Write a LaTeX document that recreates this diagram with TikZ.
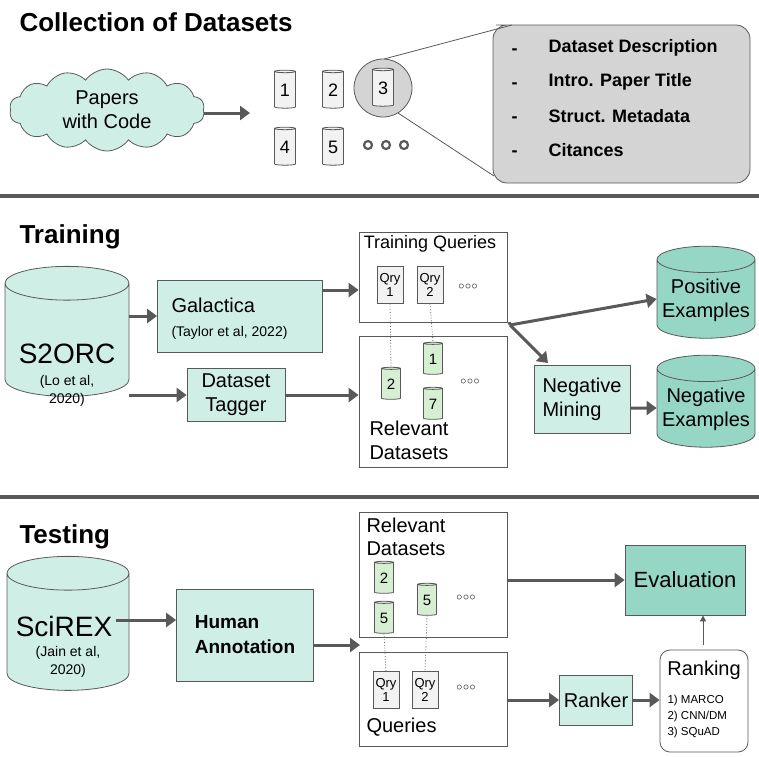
\documentclass[tikz,border=0pt]{standalone}
\usepackage{fontspec}
\setmainfont{Liberation Sans}
\usetikzlibrary{shapes.geometric,shapes.symbols,arrows.meta}
\definecolor{lteal}{HTML}{CFEFE6}
\definecolor{dteal}{HTML}{96D6C5}
\definecolor{lgreen}{HTML}{D6EFD3}
\definecolor{agray}{HTML}{595959}
\begin{document}
\begin{tikzpicture}[x=1pt,y=-1pt,
  fs/.style={font=\fontsize{#1}{#1}\selectfont},
  title/.style={anchor=west,font=\fontsize{26}{26}\selectfont\bfseries},
  box/.style={draw=agray,fill=lteal,line width=0.8pt,inner sep=0pt},
  panel/.style={draw=agray,fill=white,line width=0.8pt},
  cyl/.style={cylinder,shape border rotate=90,draw=agray,line width=0.8pt,aspect=#1,inner sep=0pt},
  small/.style={cyl=0.25,fill=white!90!gray,minimum width=21pt,minimum height=38pt,fs=18},
  gsmall/.style={cyl=0.25,fill=lgreen,minimum width=19pt,minimum height=32pt,fs=15},
  qry/.style={draw=agray,fill=white!90!gray,minimum width=26pt,minimum height=37pt,inner sep=0pt,align=center,font=\fontsize{13}{14}\selectfont},
  arr/.style={draw=agray,line width=3pt,-{Triangle[length=10pt,width=14pt]}},
  dots/.style={fs=12},
  dotl/.style={agray,dotted,line width=0.8pt},
  sep/.style={agray,line width=4pt},
  cite/.style={align=center,font=\fontsize{14}{18}\selectfont},
  item/.style={anchor=west,font=\bfseries\fontsize{18}{18}\selectfont}]
\useasboundingbox (0,0) rectangle (759,756);

% ---------- Collection of Datasets
\node[title] at (16,22) {Collection of Datasets};
\node[cloud,cloud puffs=14,cloud puff arc=110,aspect=2.6,draw=agray,fill=lteal,line width=0.8pt,
  minimum width=195pt,minimum height=82pt,align=center,font=\fontsize{20}{24}\selectfont] (pwc) at (107,110) {Papers\\with Code};
\coordinate (pwcin) at (250,113);
\draw[arr] (pwc.east |- pwcin) -- (pwcin);

\node[circle,draw=agray,fill=black!17,line width=0.8pt,minimum size=58pt] (zoom) at (383,88) {};
\draw[agray,line width=0.8pt,fill=black!17,rounded corners=14pt]
  (510,25) -- (750,25) -- (750,183) -- (493,183) -- (493,25) -- cycle;
\draw[agray,line width=0.8pt] (384,59) -- (512,25);
\draw[agray,line width=0.8pt] (398,113) -- (494,176);
\foreach \y/\t in {48/Dataset Description,82/Intro. Paper Title,116/Struct. Metadata,150/Citances}
  {\node[item] at (508,\y+4) {-};
   \node[item] at (545,\y) {\t};}
\node[small] (d1) at (285,90) {1};
\node[small] (d2) at (333,90) {2};
\node[small] (d3) at (383,88) {3};
\node[small] (d4) at (285,147) {4};
\node[small] (d5) at (333,147) {5};
\foreach \x in {368,386,404} \draw[agray,line width=2.2pt] (\x,145) circle (4pt);
\draw[sep] (0,196) -- (759,196);

% ---------- Training
\node[title] at (16,237) {Training};
\node[cyl=0.35,fill=lteal,minimum width=124pt,minimum height=130pt] (s2) at (67,340)
  {\phantom{\fontsize{28}{30}\selectfont S2ORC}};
\node[fs=28] at (67,354) {S2ORC};
\node[cite] at (67,391) {(Lo et al,\\2020)};
\node[box,minimum width=165pt,minimum height=72pt] (gal) at (240,316) {};
\node[anchor=west,fs=20] at (168,305) {Galactica};
\node[anchor=west,fs=14] at (168,333) {(Taylor et al, 2022)};
\node[box,minimum width=98pt,minimum height=53pt,align=center,font=\fontsize{20}{24}\selectfont] (tag) at (236,395) {Dataset\\Tagger};
\draw[arr] (s2.east |- gal) -- (gal.west);
\draw[arr] (s2.east |- tag) -- (tag.west);

\node[panel,minimum width=148pt,minimum height=90pt,inner sep=0pt] (tq) at (433,277) {};
\node[fs=18] at (430,244) {Training Queries};
\node[qry] (q1) at (390,285) {Qry\\1};
\node[qry] (q2) at (430,285) {Qry\\2};
\node[dots] at (468,287) {$\circ\!\circ\!\circ$};
\node[panel,minimum width=148pt,minimum height=131pt,inner sep=0pt] (rd) at (433,402) {};
\node[gsmall] (r1) at (433,359) {1};
\node[gsmall] (r2) at (391,384) {2};
\node[gsmall] (r7) at (433,404) {7};
\node[dots] at (470,382) {$\circ\!\circ\!\circ$};
\node[anchor=west,align=left,font=\fontsize{20}{24}\selectfont] at (366,440) {Relevant\\Datasets};
\draw[dotl] (q1.south) -- (r2.north);
\draw[dotl] (q2.south) -- (r1.north);
\coordinate (g1) at (gal.east |- 0,290);
\draw[arr] (g1) -- (tq.west |- g1);
\draw[arr] (tag.east) -- (rd.west |- tag);

\node[cyl=0.3,fill=dteal,minimum width=98pt,minimum height=92pt,align=center,font=\fontsize{20}{24}\selectfont] (pos) at (706,299) {\\[-6pt]Positive\\Examples};
\node[cyl=0.3,fill=dteal,minimum width=98pt,minimum height=92pt,align=center,font=\fontsize{20}{24}\selectfont] (neg) at (706,408) {\\[-6pt]Negative\\Examples};
\node[box,minimum width=96pt,minimum height=68pt,align=left,font=\fontsize{20}{24}\selectfont] (nm) at (582,399) {Negative\\Mining};
\coordinate (fork) at (510,325);
\coordinate (nmin) at (548,363);
\draw[agray,line width=3pt] (rd.north east) ++(2,-14) -- (fork);
\draw[arr] (fork) -- (pos.west);
\draw[arr] (fork) -- (nmin);
\draw[arr] (nm.east |- neg) -- (neg.west);
\draw[sep] (0,497) -- (759,497);

% ---------- Testing
\node[title] at (16,537) {Testing};
\node[cyl=0.35,fill=lteal,minimum width=122pt,minimum height=134pt] (sci) at (68,632)
  {\phantom{\fontsize{28}{30}\selectfont SciREX}};
\node[fs=28] (scit) at (64,626) {SciREX};
\node[cite] at (68,662) {(Jain et al,\\2020)};
\node[box,minimum width=137pt,minimum height=92pt,align=left,font=\bfseries\fontsize{19}{25}\selectfont] (ha) at (245,635) {Human\\Annotation};
\draw[arr] (scit.east |- 0,620) -- (ha.west |- 0,620);

\node[panel,minimum width=148pt,minimum height=125pt,inner sep=0pt] (trd) at (433,575) {};
\node[anchor=west,align=left,font=\fontsize{20}{23}\selectfont] at (363,537) {Relevant\\Datasets};
\node[gsmall] (t2) at (384,578) {2};
\node[gsmall] (t5a) at (384,618) {5};
\node[gsmall] (t5b) at (427,600) {5};
\node[dots] at (466,598) {$\circ\!\circ\!\circ$};
\node[panel,minimum width=148pt,minimum height=94pt,inner sep=0pt] (tqs) at (433,699) {};
\node[qry] (tq1) at (386,690) {Qry\\1};
\node[qry] (tq2) at (425,690) {Qry\\2};
\node[dots] at (466,688) {$\circ\!\circ\!\circ$};
\node[anchor=west,fs=20] at (363,727) {Queries};
\draw[dotl] (t5a.south) -- (tq1.north);
\draw[dotl] (t5b.south) -- (tq2.north);
\coordinate (hain) at (360,645);
\draw[arr] (ha.east |- hain) -- (hain);

\node[box,fill=dteal,minimum width=120pt,minimum height=70pt,fs=22] (ev) at (685,580) {Evaluation};
\draw[arr] (trd.east |- ev) -- (ev.west);
\node[draw=agray,line width=0.8pt,fill=white,rounded corners=10pt,minimum width=88pt,minimum height=102pt] (rk) at (704,701) {};
\node[fs=20] at (704,670) {Ranking};
\node[anchor=west,align=left,font=\fontsize{11.5}{16}\selectfont] at (664,717) {1) MARCO\\2) CNN/DM\\3) SQuAD};
\node[box,minimum width=73pt,minimum height=50pt,fs=20] (rkr) at (596,700) {Ranker};
\draw[arr] (tqs.east |- rkr) -- (rkr.west);
\draw[arr] (rkr.east) -- (rk.west |- rkr);
\coordinate (rktop) at (703,645);
\draw[agray,line width=1pt,-{Triangle[length=6pt,width=6pt]}] (rktop) -- (ev.south -| rktop);
\end{tikzpicture}
\end{document}
